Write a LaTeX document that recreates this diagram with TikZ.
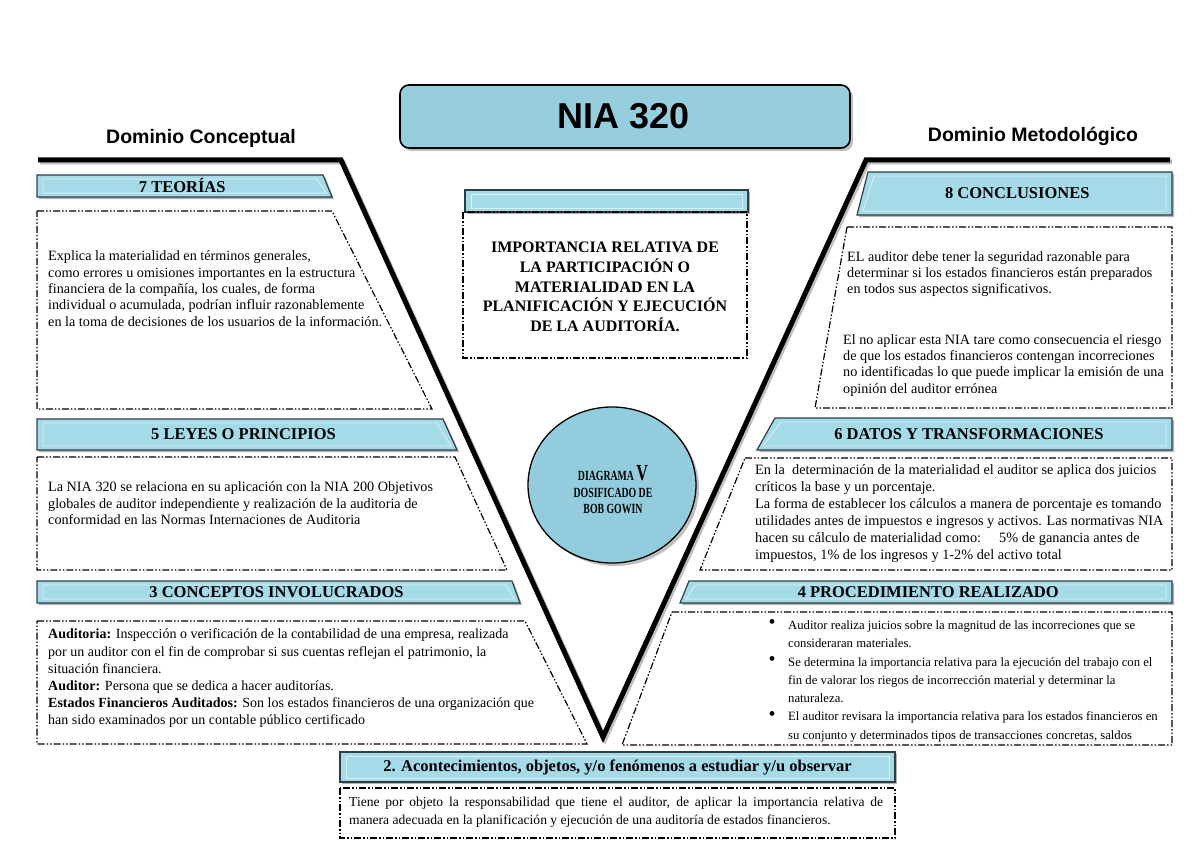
\documentclass[tikz,border=0pt]{standalone}
\usepackage{graphicx}
\usepackage{fontspec}
\setmainfont{Liberation Serif}
\newfontfamily\arialf{Liberation Sans}
\definecolor{bfill}{HTML}{A5DAE9}
\definecolor{tfill}{HTML}{96CEDE}
\definecolor{cfill}{HTML}{93CDDD}
\definecolor{bedge}{HTML}{2F3E44}
\tikzset{
 vline/.style={line width=5pt, line join=miter, line cap=butt},
 dbox/.style={line width=1.2pt, dash pattern=on 7pt off 2pt on 1.5pt off 2pt on 1.5pt off 2pt},
 btext/.style={font=\bfseries\fontsize{16.5}{19}\selectfont, inner sep=0},
 bodytext/.style={inner sep=0, align=left, anchor=north west},
 bul/.style={inner sep=0, font=\fontsize{20}{20}\selectfont},
}
\newcommand\vban[8]{%
 \fill[black, opacity=0.3] ({#2+2},{#6+2}) -- ({#3+2},{#6+2}) -- ({#4+2},{#7+2}) -- ({#5+2},{#7+2}) -- cycle;
 \filldraw[fill=bfill, draw=bedge, line width=1.2pt] (#2,#6) -- (#3,#6) -- (#4,#7) -- (#5,#7) -- cycle;
 \draw[white, opacity=0.6, line width=0.8pt] ({#2+6},{#6+4}) -- ({#3-6},{#6+4}) -- ({#4-6},{#7-4}) -- ({#5+6},{#7-4}) -- cycle;
 \node[btext] (#1) at ({(#2+#3+#4+#5)/4},{(#6+#7)/2}) {#8};
}
\begin{document}
\begin{tikzpicture}[x=1pt,y=-1pt]
\useasboundingbox (0,0) rectangle (1200,848);
\fill[white] (0,0) rectangle (1200,848);

% title
\fill[black, opacity=0.25, rounded corners=9pt] (403,88) rectangle (853,151);
\draw[fill=tfill, line width=1.6pt, rounded corners=9pt] (400,85) rectangle (850,148);
\node[font=\arialf\bfseries\fontsize{36}{40}\selectfont, inner sep=0] (title) at (624,116) {NIA 320};

\node[font=\arialf\bfseries\fontsize{19.5}{22}\selectfont, inner sep=0] (dcon) at (201,138) {Dominio Conceptual};
\node[font=\arialf\bfseries\fontsize{19.5}{22}\selectfont, inner sep=0] (dmet) at (1033,136) {Dominio Metodológico};

% V
\draw[vline, black, opacity=0.25] (40,162) -- (343,162) -- (605,739) -- (868,162) -- (1172,162);
\draw[vline] (38,160) -- (341,160) -- (603,737) -- (866,160) -- (1170,160);

% left side
\vban{b7}{37}{323}{332}{37}{175}{197}{7 TEORÍAS}
\draw[dbox] (37,211) coordinate (d7) -- (332,211) -- (432,409) -- (37,409) -- cycle;
\vban{b5}{37}{443}{457}{37}{419}{450}{5 LEYES O PRINCIPIOS}
\draw[dbox] (37,457) coordinate (d5) -- (455,457) -- (507,570) -- (37,570) -- cycle;
\vban{b3}{37}{512}{520}{37}{581}{603}{3 CONCEPTOS INVOLUCRADOS}
\draw[dbox] (37,621) coordinate (d3) -- (525,621) -- (587,744) -- (37,744) -- cycle;

% right side
\vban{b8}{868}{1172}{1172}{857}{172}{215}{8 CONCLUSIONES}
\draw[dbox] (847,227) coordinate (d8) -- (1172,227) -- (1172,408) -- (815,408) -- cycle;
\vban{b6}{775}{1172}{1172}{757}{418}{450}{6 DATOS Y TRANSFORMACIONES}
\draw[dbox] (745,458) coordinate (d6) -- (1172,458) -- (1172,570) -- (700,570) -- cycle;
\vban{b4}{689}{1172}{1172}{680}{581}{603}{4 PROCEDIMIENTO REALIZADO}
\draw[dbox] (672,612) coordinate (d4) -- (1172,612) -- (1172,745) -- (622,745) -- cycle;

% center
\vban{bc}{465}{748}{748}{465}{190}{212}{}
\draw[dbox] (463,212) rectangle (747,358);
\node[inner sep=0, anchor=north, align=center, font=\bfseries\fontsize{16}{19.8}\selectfont] (ctext) at (605,238.4)
 {\strut IMPORTANCIA RELATIVA DE\\ LA PARTICIPACIÓN O\\ MATERIALIDAD EN LA\\ PLANIFICACIÓN Y EJECUCIÓN\\ DE LA AUDITORÍA.};

% circle
\fill[black, opacity=0.25] (615,488) ellipse [x radius=84, y radius=78];
\draw[fill=cfill, line width=1.3pt] (612,485) ellipse [x radius=84, y radius=78];
\node[inner sep=0, align=center, font=\bfseries\fontsize{14}{16.5}\selectfont] (gowin) at (613,490)
 {\scalebox{0.7}[1]{DIAGRAMA {\fontsize{23}{22}\selectfont V}}\\ \scalebox{0.7}[1]{DOSIFICADO DE}\\ \scalebox{0.7}[1]{BOB GOWIN}};

% bottom
\vban{b2}{340}{895}{895}{340}{752}{782}{2. Acontecimientos, objetos, y/o fenómenos a estudiar y/u observar}
\draw[dbox] (340,788) rectangle (895,838);

% texts
\node[bodytext, font=\fontsize{14.2}{16.4}\selectfont] (t7) at (48,249)
 {\strut Explica la materialidad en términos generales,\\
 como errores u omisiones importantes en la estructura\\
 financiera de la compañía, los cuales, de forma\\
 individual o acumulada, podrían influir razonablemente\\
 en la toma de decisiones de los usuarios de la información.};

\node[bodytext, font=\fontsize{14.2}{16.4}\selectfont] (t5) at (48,480)
 {\strut La NIA 320 se relaciona en su aplicación con la NIA 200 Objetivos\\
 globales de auditor independiente y realización de la auditoria de\\
 conformidad en las Normas Internaciones de Auditoria};

\node[bodytext, font=\fontsize{14}{17.2}\selectfont] (t3) at (48,626.6)
 {\strut\textbf{Auditoria:} Inspección o verificación de la contabilidad de una empresa, realizada\\
 por un auditor con el fin de comprobar si sus cuentas reflejan el patrimonio, la\\
 situación financiera.\\
 \textbf{Auditor:} Persona que se dedica a hacer auditorías.\\
 \textbf{Estados Financieros Auditados:} Son los estados financieros de una organización que\\
 han sido examinados por un contable público certificado};

\node[bodytext, font=\fontsize{14.2}{16.2}\selectfont] (t8a) at (847,249.5)
 {\strut EL auditor debe tener la seguridad razonable para\\
 determinar si los estados financieros están preparados\\
 en todos sus aspectos significativos.};
\node[bodytext, font=\fontsize{14.2}{16.2}\selectfont] (t8b) at (843,333)
 {\strut El no aplicar esta NIA tare como consecuencia el riesgo\\
 de que los estados financieros contengan incorreciones\\
 no identificadas lo que puede implicar la emisión de una\\
 opinión del auditor errónea};

\node[bodytext, font=\fontsize{14.3}{17}\selectfont] (t6) at (755,462.7)
 {\strut En la\ \ determinación de la materialidad el auditor se aplica dos juicios\\
 críticos la base y un porcentaje.\\
 La forma de establecer los cálculos a manera de porcentaje es tomando\\
 utilidades antes de impuestos e ingresos y activos. Las normativas NIA\\
 hacen su cálculo de materialidad como:\hspace{18pt}5\% de ganancia antes de\\
 impuestos, 1\% de los ingresos y 1-2\% del activo total};

\node[bodytext, font=\fontsize{12.7}{18.3}\selectfont] (t4) at (788,616.4)
 {\strut Auditor realiza juicios sobre la magnitud de las incorreciones que se\\
 consideraran materiales.\\
 Se determina la importancia relativa para la ejecución del trabajo con el\\
 fin de valorar los riegos de incorrección material y determinar la\\
 naturaleza.\\
 El auditor revisara la importancia relativa para los estados financieros en\\
 su conjunto y determinados tipos de transacciones concretas, saldos};
\node[bul] (bu1) at (772,624) {\textbullet};
\node[bul] (bu2) at (772,660.6) {\textbullet};
\node[bul] (bu3) at (772,715.5) {\textbullet};

\node[bodytext, align=justify, text width=534pt, font=\fontsize{13.6}{18}\selectfont] (t2) at (349,794)
 {\strut Tiene por objeto la responsabilidad que tiene el auditor, de aplicar la importancia relativa de\linebreak
 manera adecuada en la planificación y ejecución de una auditoría de estados financieros.};
\end{tikzpicture}
\end{document}
